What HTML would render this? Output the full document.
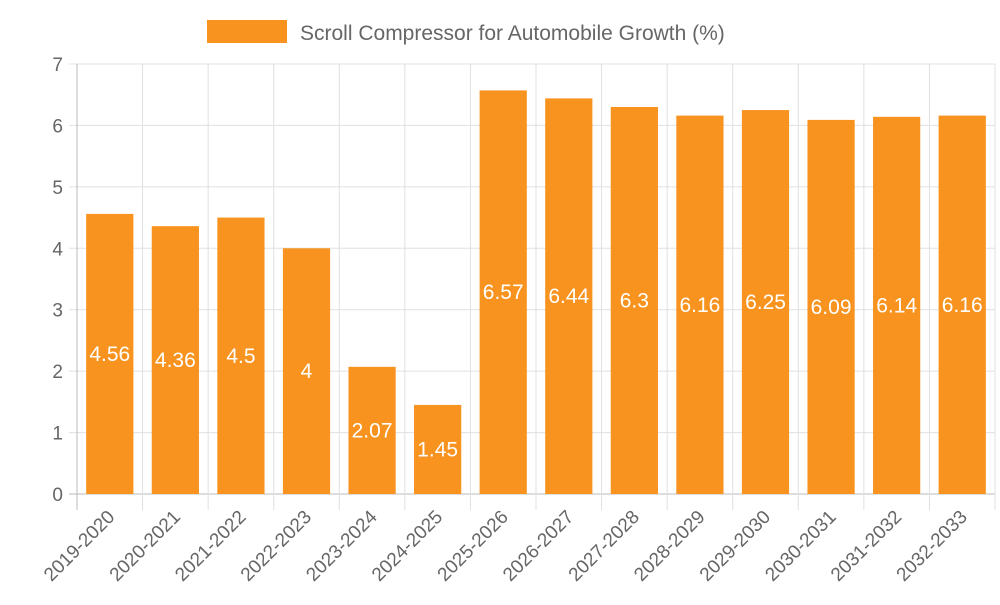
<!DOCTYPE html>
<html><head><meta charset="utf-8"><style>
body{margin:0;background:#fff;}
svg{font-family:"Liberation Sans",sans-serif;}
</style></head><body>
<svg id="chart" width="1000" height="600">
<g>
<rect x="207" y="20" width="80" height="23" fill="#F7931E"/>
<text x="300" y="40" font-size="21" fill="#666">Scroll Compressor for Automobile Growth (%)</text>
</g>
<g id="grid"></g><g id="bars"></g><g id="labels"></g>
</svg>
<script>
const categories=["2019-2020","2020-2021","2021-2022","2022-2023","2023-2024","2024-2025","2025-2026","2026-2027","2027-2028","2028-2029","2029-2030","2030-2031","2031-2032","2032-2033"];
const values=[4.56,4.36,4.5,4,2.07,1.45,6.57,6.44,6.3,6.16,6.25,6.09,6.14,6.16];
const yTicks=[0,1,2,3,4,5,6,7];
const NS="http://www.w3.org/2000/svg";
const L=77,R=995,T=64,B=494,yMax=7;
const bw=(R-L)/categories.length;
const y=v=>B-(v/yMax)*(B-T);
const x=i=>L+i*bw;
function mk(tag,attrs,parent){const e=document.createElementNS(NS,tag);for(const k in attrs)e.setAttribute(k,attrs[k]);parent.appendChild(e);return e;}
const grid=document.getElementById('grid'),bars=document.getElementById('bars'),labels=document.getElementById('labels');
yTicks.forEach(t=>{
 const ln=mk('line',{x1:L-8,x2:R,y1:y(t),y2:y(t),stroke:t===0?'#bbb':'#e0e0e0','stroke-width':1},grid);
 
 
 const tx=mk('text',{x:L-14,y:y(t)+7,'text-anchor':'end','font-size':19,fill:'#666'},grid);
 tx.textContent=t;
 
 
});
for(let i=0;i<=categories.length;i++){
 const ln=mk('line',{x1:x(i),x2:x(i),y1:T,y2:B+16,stroke:i===0?'#bbb':'#e0e0e0','stroke-width':1},grid);
 
 
}
categories.forEach((c,i)=>{
 const w=bw*0.72,cx=x(i)+bw/2;
 const r=mk('rect',{x:cx-w/2,y:y(values[i]),width:w,height:B-y(values[i]),fill:'#F7931E'},bars);
 
 
 const v=mk('text',{x:cx,y:(y(values[i])+B)/2+7,'text-anchor':'middle','font-size':21,fill:'#fff'},labels);
 v.textContent=values[i];
 
 
 const tl=mk('text',{x:cx+6,y:B+24,'text-anchor':'end','font-size':19,fill:'#666',transform:`rotate(-45 ${cx+6} ${B+24})`},labels);
 tl.textContent=c;
 
 
});
</script>
</body></html>
